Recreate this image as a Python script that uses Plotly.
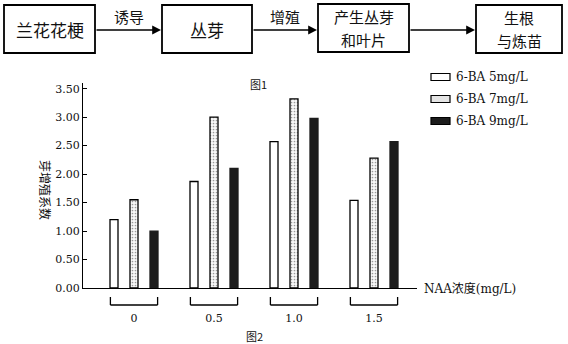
import plotly.graph_objects as go

# ---- data ----
naa_levels = ["0", "0.5", "1.0", "1.5"]
series_names = ["6-BA 5mg/L", "6-BA 7mg/L", "6-BA 9mg/L"]
ba_5 = [1.20, 1.87, 2.57, 1.54]
ba_7 = [1.55, 3.00, 3.32, 2.28]
ba_9 = [1.00, 2.10, 2.98, 2.57]
y_ticks = [0, 0.5, 1.0, 1.5, 2.0, 2.5, 3.0, 3.5]
flow_steps = [["兰花花梗"], ["丛芽"], ["产生丛芽", "和叶片"], ["生根", "与炼苗"]]
flow_links = ["诱导", "增殖", ""]

# ---- page geometry (pixels) ----
W, H = 568, 344
ML, MR, MT, MB = 83, 151, 83, 56
PW, PH = W - ML - MR, H - MT - MB
X_RANGE = [-0.6375, 3.5375]

SERIF = "DejaVu Serif"
CJK = "Noto Sans CJK SC"


def fx(px):
    """pixel x -> paper x"""
    return (px - ML) / PW


def fy(py):
    """pixel y -> paper y"""
    return (H - MB - py) / PH


def label(px, py, text, size, family=CJK, xanchor="center", **kw):
    return dict(x=fx(px), y=fy(py), xref="paper", yref="paper", text=text,
                showarrow=False, xanchor=xanchor, yanchor="middle",
                font=dict(family=family, size=size, color="#111"), **kw)


styles = [
    dict(color="white", line=dict(color="black", width=1.3)),
    dict(color="#f4f4f4", line=dict(color="black", width=1.3),
         pattern=dict(shape=".", fgcolor="#9a9a9a", bgcolor="#f8f8f8",
                      size=3, solidity=0.25, fillmode="replace")),
    dict(color="#1c1c1c", line=dict(color="#1c1c1c", width=1.3)),
]
swatch_fill = ["white", "#e4e4e4", "#1c1c1c"]

fig = go.Figure()
for name, vals, st in zip(series_names, [ba_5, ba_7, ba_9], styles):
    fig.add_trace(go.Bar(x=naa_levels, y=vals, name=name, marker=st,
                         showlegend=False))

shapes = []
annotations = []

# brackets grouping the bars of each NAA level
half = 0.295
for i in range(len(naa_levels)):
    a, b = i - half, i + half
    for x0, y0, x1, y1 in [(a, fy(297), a, fy(305)),
                           (a, fy(305), b, fy(305)),
                           (b, fy(305), b, fy(297))]:
        shapes.append(dict(type="line", xref="x", yref="paper",
                           x0=x0, y0=y0, x1=x1, y1=y1,
                           line=dict(color="black", width=1.3)))

# legend
for k, (name, fill) in enumerate(zip(series_names, swatch_fill)):
    cy = 77 + 22 * k
    shapes.append(dict(type="rect", xref="paper", yref="paper",
                       x0=fx(431), x1=fx(450), y0=fy(cy + 3.5), y1=fy(cy - 3.5),
                       fillcolor=fill, line=dict(color="black", width=1.2)))
    annotations.append(label(454, cy, name, 12, family=SERIF, xanchor="left"))

# flow chart along the top
boxes = [(4, 95, 5, 53), (162, 252, 5, 53), (318, 409, 4, 52), (476, 562, 5, 53)]
for (x0, x1, y0, y1), lines in zip(boxes, flow_steps):
    shapes.append(dict(type="rect", xref="paper", yref="paper",
                       x0=fx(x0), x1=fx(x1), y0=fy(y1), y1=fy(y0),
                       line=dict(color="black", width=1.8), fillcolor="white",
                       layer="below"))
    cy = (y0 + y1) / 2
    if len(lines) == 1:
        annotations.append(label((x0 + x1) / 2, cy, lines[0], 17))
    else:
        for j, line in enumerate(lines):
            annotations.append(label((x0 + x1) / 2, cy - 11 + 22 * j, line, 15))

for k, link in enumerate(flow_links):
    start = boxes[k][1]
    end = boxes[k + 1][0]
    annotations.append(dict(x=fx(end - 1), y=fy(30), xref="paper", yref="paper",
                            ax=-(end - 1 - start), ay=0, text="",
                            showarrow=True, arrowhead=2, arrowsize=1.1,
                            arrowwidth=1.6, arrowcolor="black", standoff=0))
    if link:
        annotations.append(label((start + end) / 2, 17, link, 15))

# captions and axis titles
annotations += [
    label(258, 84, "图1", 11),
    label(255, 336, "图2", 11),
    label(46, 190, "芽增殖系数", 12, textangle=90),
    label(422, 288.5, "NAA浓度(mg/L)", 12, family=f"{SERIF}, {CJK}",
          xanchor="left"),
]

fig.update_layout(
    width=W, height=H,
    margin=dict(l=ML, r=MR, t=MT, b=MB, pad=0),
    paper_bgcolor="white", plot_bgcolor="white",
    barmode="group", bargap=0.25, bargroupgap=0.6,
    shapes=shapes, annotations=annotations,
    showlegend=False,
)
fig.update_xaxes(type="category", range=X_RANGE, showline=True,
                 linecolor="black", linewidth=1.3, ticks="", showgrid=False,
                 zeroline=False, ticklabelstandoff=20,
                 tickfont=dict(family=SERIF, size=11, color="#111"))
fig.update_yaxes(range=[0, 3.6], tickvals=y_ticks, tickformat=".2f",
                 ticks="inside", ticklen=4, tickwidth=1.2, tickcolor="black",
                 showline=True, linecolor="black", linewidth=1.3,
                 showgrid=False, zeroline=False,
                 tickfont=dict(family=SERIF, size=11, color="#111"))

fig.write_html("out.html")
